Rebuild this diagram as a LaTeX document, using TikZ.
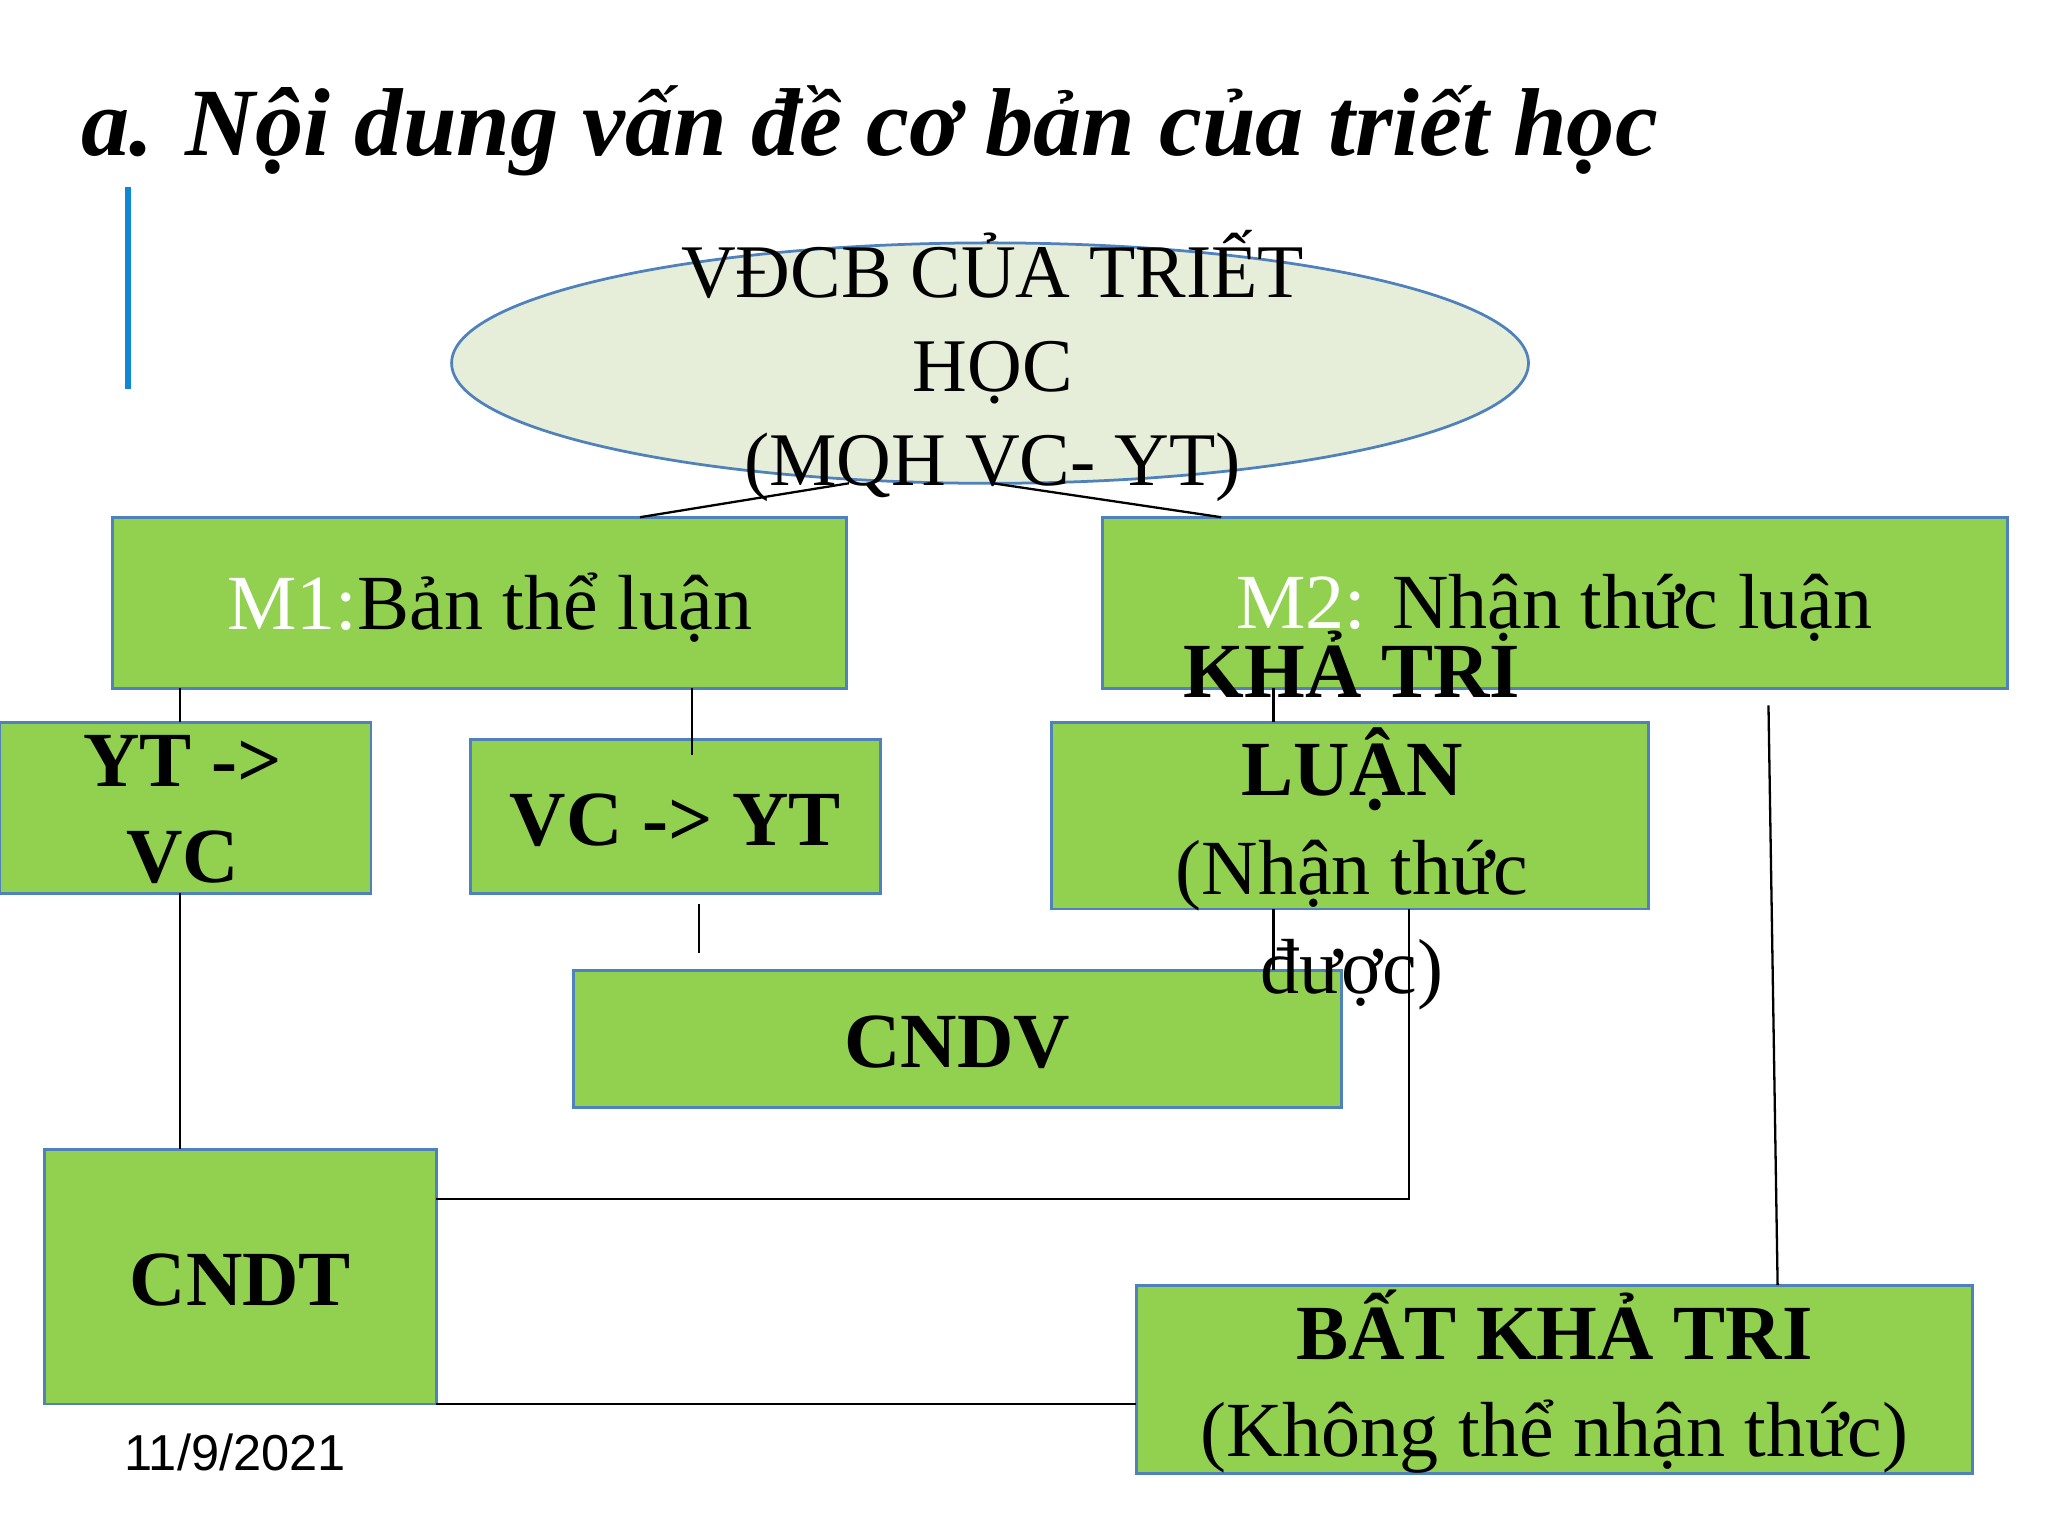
\documentclass[tikz,border=0pt]{standalone}
\usepackage{fontspec}
\setmainfont{Liberation Serif}
\newfontfamily\datefont{Liberation Sans}
\usetikzlibrary{shapes.geometric}
\definecolor{boxgreen}{HTML}{92D050}
\definecolor{edgeblue}{HTML}{4F81BD}
\definecolor{ellfill}{HTML}{E6EDD8}
\tikzset{
  gbox/.style={draw=edgeblue,fill=boxgreen,line width=0.6pt,inner sep=0pt},
  conn/.style={draw=black,line width=0.5pt},
  lbl/.style={align=center,font=\fontsize{17}{21}\selectfont},
  blbl/.style={align=center,font=\bfseries\fontsize{17}{21}\selectfont},
}
\begin{document}
\begin{tikzpicture}[x=0.01cm,y=-0.01cm]
\useasboundingbox (0,0) rectangle (1568,1176);
\fill[white] (0,0) rectangle (1568,1176);
\node[anchor=west,font=\bfseries\itshape\fontsize{21}{25}\selectfont] (title) at (50,100) {a. Nội dung vấn đề cơ bản của triết học};
\draw[draw=cyan!70!blue,line width=1.2pt] (98,143) -- (98,298);
% ellipse
\node[ellipse,draw=edgeblue,fill=ellfill,minimum width=8.24cm,minimum height=1.84cm,inner sep=0pt,line width=0.6pt] (ell) at (758,278) {};
\node[lbl,font=\fontsize{16.5}{20.5}\selectfont] (elltxt) at (760,280) {VĐCB CỦA TRIẾT\\HỌC\\(MQH VC- YT)};
% boxes
\draw[gbox] (86,396) rectangle (648,527);
\node[lbl] (m1t) at (375,465) {\textcolor{white}{M1:}Bản thể luận};
\draw[gbox] (844,396) rectangle (1537,527);
\node[lbl] (m2t) at (1190,465) {\textcolor{white}{M2:} Nhận thức luận};
\draw[gbox] (0,553) rectangle (284,684);
\node[blbl] (ytvc) at (140,620) {YT ->\\VC};
\draw[gbox] (360,566) rectangle (674,684);
\node[blbl] (vcyt) at (517,628) {VC -> YT};
\draw[gbox] (805,553) rectangle (1262,696);
\draw[gbox] (439,743) rectangle (1027,848);
\node[blbl] (cndv) at (733,798) {CNDV};
\draw[gbox] (34,880) rectangle (334,1075);
\node[blbl] (cndt) at (184,980) {CNDT};
\draw[gbox] (870,984) rectangle (1510,1128);
\node[lbl] (btk) at (1190,1058) {\textbf{BẤT KHẢ TRI}\\(Không thể nhận thức)};
% connectors
\draw[conn] (490,396) -- (650,370);
\draw[conn] (935,396) -- (760,370);
\draw[conn] (138,527) -- (138,553);
\draw[conn] (530,527) -- (530,578);
\draw[conn] (138,684) -- (138,880);
\draw[conn] (535,692) -- (535,730);
\draw[conn] (975,527) -- (975,553);
\draw[conn] (975,696) -- (975,743);
\draw[conn] (1079,696) -- (1079,918) -- (334,918);
\draw[conn] (1354,540) -- (1361,984);
\draw[conn] (334,1075) -- (870,1075);
\node[lbl,font=\fontsize{17}{21.5}\selectfont] (kt) at (1035,628) {\textbf{KHẢ TRI}\\\textbf{LUẬN}\\(Nhận thức\\được)};
\node[font=\datefont\fontsize{11}{13}\selectfont] (date) at (180,1112) {11/9/2021};
\end{tikzpicture}
\end{document}
